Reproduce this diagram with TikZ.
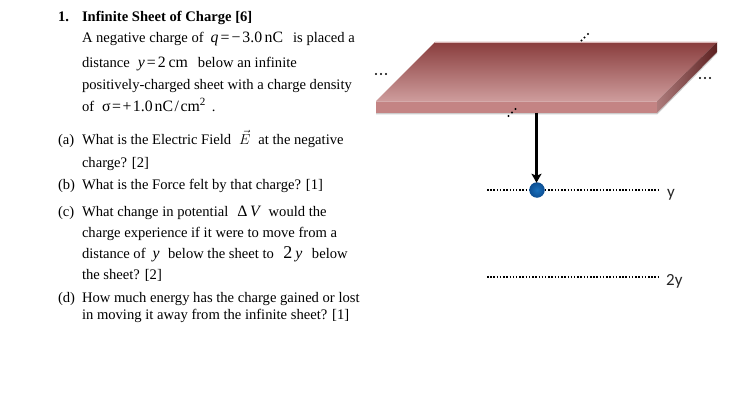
\documentclass[tikz,border=0pt]{standalone}
\usepackage{fontspec}
\setmainfont{Liberation Serif}
\newfontfamily\labelfont{Carlito}
\usetikzlibrary{arrows.meta}
\definecolor{topdark}{HTML}{893D3D}
\definecolor{topmid}{HTML}{AC6E6E}
\definecolor{toplight}{HTML}{CE9C9C}
\definecolor{frontface}{HTML}{C48484}
\definecolor{sidedark}{HTML}{5C2020}
\definecolor{sidelight}{HTML}{AD7C7C}
\definecolor{ballblue}{HTML}{1A70BC}
\definecolor{balldark}{HTML}{0C4E92}
\newcommand{\ttext}[3]{\node[bodytext] (#1) at #2 {#3};}
\newcommand{\mthfont}{\fontsize{15.8pt}{16pt}\selectfont}
\tikzset{
  bodytext/.style={anchor=base west,inner sep=0pt,outer sep=0pt,font=\fontsize{14.6pt}{16pt}\selectfont},
  levelline/.style={line width=2pt,black,dash pattern=on 1.5pt off 1.72pt},
  levellabel/.style={anchor=base west,inner sep=0pt,font=\labelfont\fontsize{17pt}{19pt}\selectfont,text=black!85},
  fieldarrow/.style={line width=2.6pt,black,-{Stealth[length=9pt,width=10pt,inset=2pt]},shorten >=-0.5pt},
  ellipsisdot/.style={black,fill=black},
  shadowedge/.style={line width=1.2pt,black!20},
}
\begin{document}
\begin{tikzpicture}[x=1pt,y=-1pt]
\useasboundingbox[fill=white] (0,0) rectangle (747,404);
% text
\ttext{n1}{(58,22)}{\bfseries 1.}
\ttext{t1}{(82,22)}{\bfseries Infinite Sheet of Charge [6]}
\ttext{t2}{(82,43)}{A negative charge of\hspace{7pt}{\mthfont{\itshape q}\kern2pt=\kern2pt−\kern2pt3.0\kern2.5pt nC}\hspace{10pt}is placed a}
\ttext{t3}{(82,68)}{distance\hspace{8pt}{\mthfont{\itshape y}\kern2pt=\kern2pt2\kern3pt cm}\hspace{10pt}below an infinite}
\ttext{t4}{(82,89)}{positively-charged sheet with a charge density}
\ttext{t5}{(82,111)}{of\hspace{8pt}{\mthfont σ\kern1.5pt=\kern1.5pt+\kern1.5pt1.0\kern2pt nC\kern1.5pt/\kern1.5pt cm\textsuperscript{2}}\hspace{6pt}.}
\ttext{a0}{(58,144)}{(a)}
\ttext{a1}{(82,144)}{What is the Electric Field\hspace{8pt}$\vec{E}$\hspace{8pt}at the negative}
\ttext{a2}{(82,167)}{charge? [2]}
\ttext{b0}{(58,189)}{(b)}
\ttext{b1}{(82,189)}{What is the Force felt by that charge? [1]}
\ttext{c0}{(58,216)}{(c)}
\ttext{c1}{(82,216)}{What change in potential\hspace{9pt}{\mthfont Δ\kern2.5pt{\itshape V}}\hspace{9pt}would the}
\ttext{c2}{(82,237)}{charge experience if it were to move from a}
\ttext{c3}{(82,258)}{distance of\hspace{7pt}{\mthfont{\itshape y}}\hspace{8.5pt}below the sheet to\hspace{9.5pt}{\fontsize{18pt}{16pt}\selectfont 2}\kern3pt{\mthfont{\itshape y}}\hspace{9.5pt}below}
\ttext{c4}{(82,279)}{the sheet? [2]}
\ttext{d0}{(58,302)}{(d)}
\ttext{d1}{(82,302)}{How much energy has the charge gained or lost}
\ttext{d2}{(82,319)}{in moving it away from the infinite sheet? [1]}
% sheet
\draw[shadowedge] (376,113.8) -- (657,113.8) -- (717,52.8);
\shade[top color=topdark,middle color=topmid,bottom color=toplight]
  (435,42) -- (717,42) -- (657,101) -- (376,101) -- cycle;
\fill[frontface] (376,101) rectangle (657,113);
\shade[left color=sidelight,right color=sidedark]
  (657,101) -- (717,42) -- (717,52) -- (657,113) -- cycle;
\draw[line width=0.8pt,toplight!75!white] (435,42) -- (717,42);
\draw[line width=0.6pt,toplight!85!white] (376,101) -- (657,101);
\coordinate (sheetfoot) at (536.5,112.5);
% level lines
\coordinate (ya) at (487,190);
\coordinate (yb) at (658,190);
\coordinate (yya) at (487,277);
\coordinate (yyb) at (658,277);
\draw[levelline] (ya) -- (yb);
\draw[levelline] (yya) -- (yyb);
\node[levellabel] (ylab) at (667,197) {y};
\node[levellabel] (yylab) at (666,285) {2y};
% charge
\node[circle,minimum size=15.5pt,inner sep=0pt,outer sep=0pt,inner color=ballblue,outer color=balldark] (charge) at (537,190) {};
\draw[fieldarrow] (sheetfoot) -- (charge.north -| sheetfoot);
% ellipses
\foreach \p in {(376,74),(381,74),(386,74),(700,78),(705,78),(710,78),
  (581.5,40.5),(584.5,37.5),(588,34),(508.5,116),(512,112.5),(515.5,109)}
  \fill[ellipsisdot] \p circle (1.1pt);
\end{tikzpicture}
\end{document}
